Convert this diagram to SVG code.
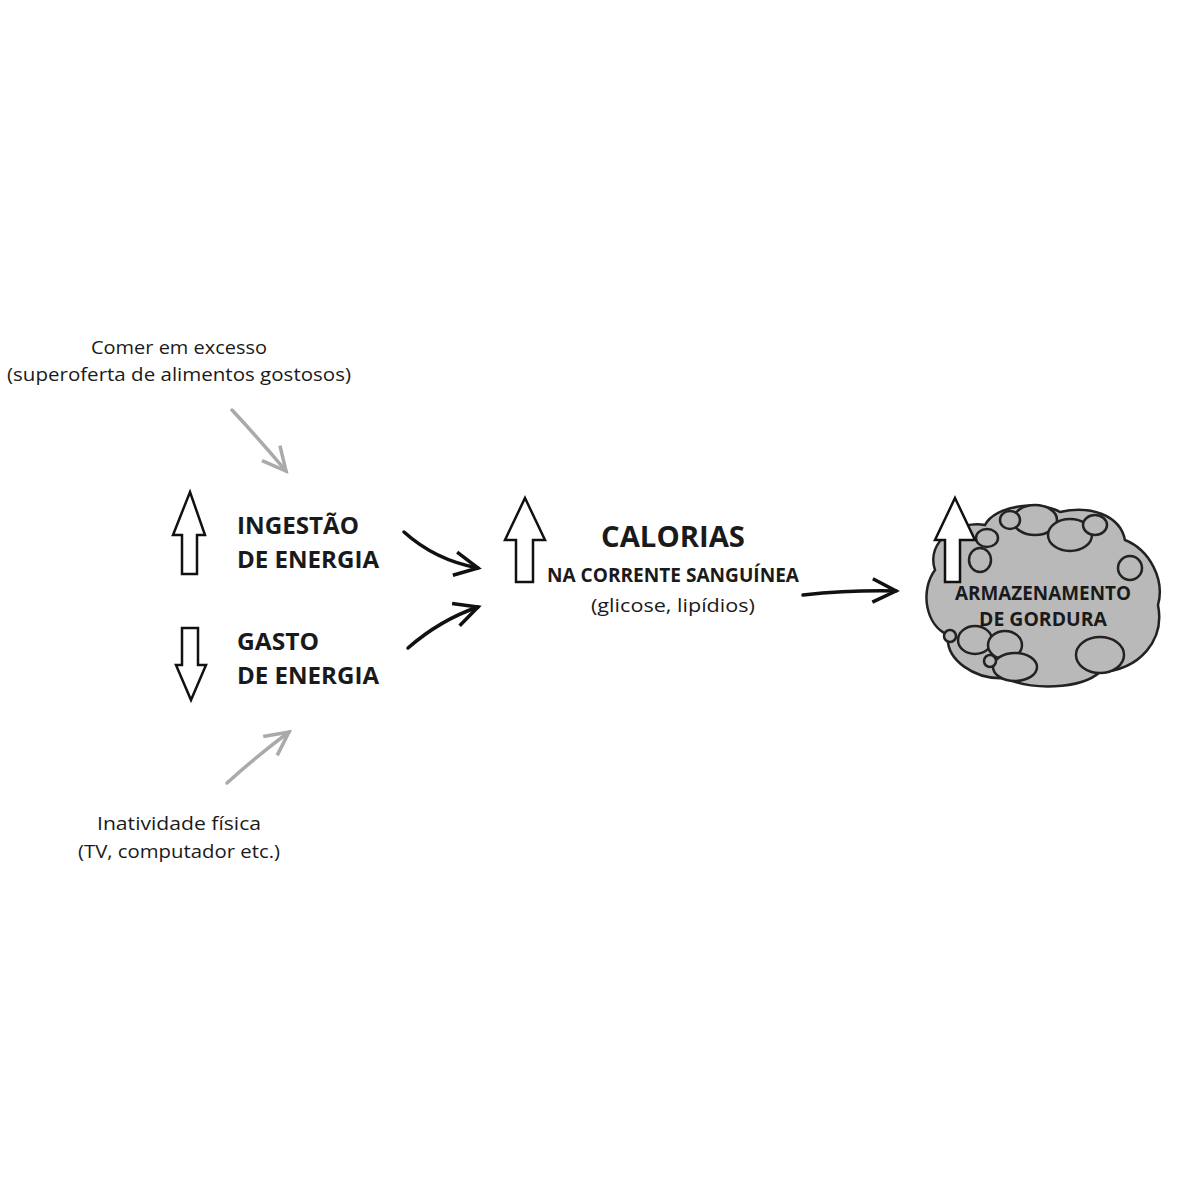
<svg xmlns="http://www.w3.org/2000/svg" width="1200" height="1200" viewBox="0 0 1200 1200">
<defs>
<style>
.t{font-family:"Open Sans","Noto Sans",sans-serif;fill:#1a1a1a}
.b{font-weight:bold}
.ha{fill:#fff;stroke:#111;stroke-width:2.5;stroke-linejoin:miter}
.c{fill:none;stroke-width:3.5;stroke-linecap:round}
.blob{fill:#b9b9b9;stroke:#222;stroke-width:2.5}
</style>
<marker id="ab" viewBox="0 0 20 20" refX="18" refY="10" markerWidth="26" markerHeight="26" markerUnits="userSpaceOnUse" orient="auto" overflow="visible"><path d="M0,1 L18,10 L0,19" fill="none" stroke="#111" stroke-width="2.7"/></marker>
<marker id="ag" viewBox="0 0 20 20" refX="18" refY="10" markerWidth="26" markerHeight="26" markerUnits="userSpaceOnUse" orient="auto" overflow="visible"><path d="M0,1 L18,10 L0,19" fill="none" stroke="#aaa" stroke-width="2.7"/></marker>
</defs>
<rect width="1200" height="1200" fill="#fff"/>
<g id="comer">
<text class="t" x="179" y="354" font-size="19" text-anchor="middle" textLength="176" lengthAdjust="spacingAndGlyphs">Comer em excesso</text>
<text class="t" x="179" y="381" font-size="19" text-anchor="middle" textLength="344" lengthAdjust="spacingAndGlyphs">(superoferta de alimentos gostosos)</text>
</g>
<g id="inatividade">
<text class="t" x="179" y="830" font-size="19" text-anchor="middle" textLength="164" lengthAdjust="spacingAndGlyphs">Inatividade física</text>
<text class="t" x="179" y="858" font-size="19" text-anchor="middle" textLength="202" lengthAdjust="spacingAndGlyphs">(TV, computador etc.)</text>
</g>
<g id="ingestao">
<path class="ha" d="M190,492 L205,535 L197,535 L197,574 L182,574 L182,535 L173,535 Z"/>
<text class="t b" x="237" y="534" font-size="24" textLength="122" lengthAdjust="spacingAndGlyphs">INGESTÃO</text>
<text class="t b" x="237" y="568" font-size="24" textLength="142" lengthAdjust="spacingAndGlyphs">DE ENERGIA</text>
</g>
<g id="gasto">
<path class="ha" d="M182,628 L198,628 L198,665 L206,665 L191,700 L176,665 L182,665 Z"/>
<text class="t b" x="237" y="650" font-size="24" textLength="82" lengthAdjust="spacingAndGlyphs">GASTO</text>
<text class="t b" x="237" y="684" font-size="24" textLength="142" lengthAdjust="spacingAndGlyphs">DE ENERGIA</text>
</g>
<g id="calorias">
<path class="ha" d="M525,498 L545,540 L533,540 L533,582 L516,582 L516,540 L505,540 Z"/>
<text class="t b" x="673" y="547" font-size="28" text-anchor="middle" textLength="144" lengthAdjust="spacingAndGlyphs">CALORIAS</text>
<text class="t b" x="673" y="582" font-size="19" text-anchor="middle" textLength="252" lengthAdjust="spacingAndGlyphs">NA CORRENTE SANGUÍNEA</text>
<text class="t" x="673" y="612" font-size="19" text-anchor="middle" textLength="164" lengthAdjust="spacingAndGlyphs">(glicose, lipídios)</text>
</g>
<g id="gordura">
<path class="blob" d="M935,570 C925,540 960,520 985,525 C995,505 1040,500 1060,512 C1090,505 1120,515 1125,540 C1150,550 1165,580 1158,605 C1165,640 1140,670 1100,672 C1080,690 1030,690 1005,678 C975,680 945,660 948,635 C925,625 920,590 935,570 Z"/>
<g class="blob">
<ellipse cx="1035" cy="520" rx="22" ry="15"/><ellipse cx="1070" cy="535" rx="22" ry="16"/>
<ellipse cx="1095" cy="525" rx="12" ry="10"/><ellipse cx="1010" cy="520" rx="10" ry="9"/>
<ellipse cx="987" cy="538" rx="11" ry="9"/><ellipse cx="980" cy="560" rx="11" ry="12"/>
<ellipse cx="1130" cy="568" rx="12" ry="12"/><ellipse cx="975" cy="640" rx="17" ry="14"/>
<ellipse cx="1005" cy="645" rx="17" ry="14"/><ellipse cx="1015" cy="667" rx="22" ry="14"/>
<ellipse cx="1100" cy="655" rx="24" ry="18"/><ellipse cx="950" cy="636" rx="6" ry="6"/>
<ellipse cx="990" cy="661" rx="6" ry="6"/>
</g>
<path class="ha" d="M955,498 L975,540 L960,540 L960,582 L945,582 L945,540 L935,540 Z"/>
<text class="t b" x="1043" y="600" font-size="19" text-anchor="middle" textLength="176" lengthAdjust="spacingAndGlyphs">ARMAZENAMENTO</text>
<text class="t b" x="1043" y="626" font-size="19" text-anchor="middle" textLength="128" lengthAdjust="spacingAndGlyphs">DE GORDURA</text>
</g>
<g id="connectors">
<path class="c" stroke="#aaa" d="M232,410 Q260,440 286,471" marker-end="url(#ag)"/>
<path class="c" stroke="#aaa" d="M227,783 Q258,755 289,732" marker-end="url(#ag)"/>
<path class="c" stroke="#111" d="M404,532 Q435,560 478,568" marker-end="url(#ab)"/>
<path class="c" stroke="#111" d="M408,648 Q440,620 478,607" marker-end="url(#ab)"/>
<path class="c" stroke="#111" d="M803,595 Q850,590 896,591" marker-end="url(#ab)"/>
</g>
</svg>
